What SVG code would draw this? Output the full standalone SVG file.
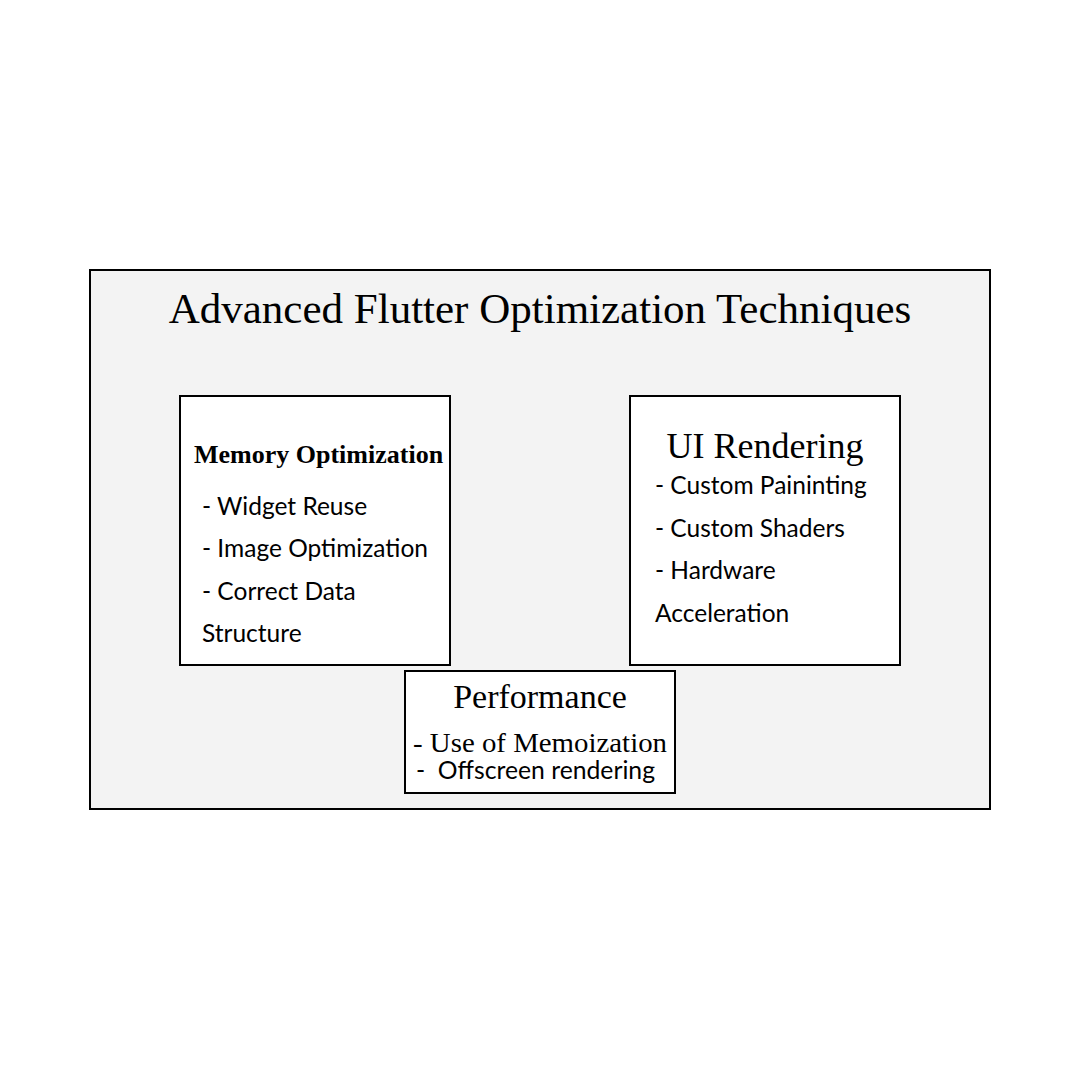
<svg xmlns="http://www.w3.org/2000/svg" width="1080" height="1080" viewBox="0 0 1080 1080">
<style>
.box{fill:#fff;stroke:#000;stroke-width:2}
.serif{font-family:"Liberation Serif",serif;fill:#000}
.sans{font-family:Lato,"Liberation Sans",sans-serif;fill:#000;font-size:24.5px}
</style>
<rect width="1080" height="1080" fill="#fff"/>
<g id="container">
<rect x="90" y="270" width="900" height="539" fill="#f3f3f3" stroke="#000" stroke-width="2"/>
<text class="serif" x="540" y="323" font-size="43" text-anchor="middle">Advanced Flutter Optimization Techniques</text>
</g>
<g id="memory">
<rect class="box" x="180" y="396" width="270" height="269"/>
<text class="serif" x="194" y="463" font-size="26" font-weight="bold">Memory Optimization</text>
<text class="sans" x="202" y="515">- Widget Reuse</text>
<text class="sans" x="202" y="557">- Image Optimization</text>
<text class="sans" x="202" y="600">- Correct Data</text>
<text class="sans" x="202" y="642">Structure</text>
</g>
<g id="ui">
<rect class="box" x="630" y="396" width="270" height="269"/>
<text class="serif" x="765" y="458" font-size="36" text-anchor="middle">UI Rendering</text>
<text class="sans" x="655" y="494">- Custom Paininting</text>
<text class="sans" x="655" y="537">- Custom Shaders</text>
<text class="sans" x="655" y="579">- Hardware</text>
<text class="sans" x="655" y="622">Acceleration</text>
</g>
<g id="performance">
<rect class="box" x="405" y="671" width="270" height="122"/>
<text class="serif" x="540" y="708" font-size="34" text-anchor="middle">Performance</text>
<text class="serif" x="413" y="752" font-size="27" textLength="254" lengthAdjust="spacingAndGlyphs">- Use of Memoization</text>
<text class="sans" x="416" y="779" font-size="23" textLength="239" lengthAdjust="spacingAndGlyphs" xml:space="preserve">-  Offscreen rendering</text>
</g>
<g id="connectors"/>
</svg>
